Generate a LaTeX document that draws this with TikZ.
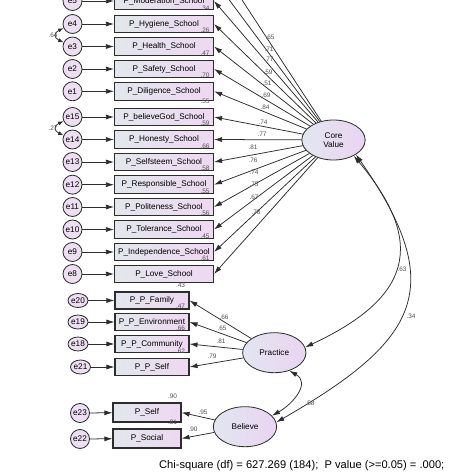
\documentclass[tikz,border=0pt]{standalone}
\usepackage{fontspec}
\setmainfont{Liberation Sans}
\usetikzlibrary{arrows.meta,shapes.geometric}
\definecolor{boxLeft}{RGB}{226,231,236}
\definecolor{boxRight}{RGB}{238,216,242}
\definecolor{errFill}{RGB}{237,222,242}
\definecolor{latLeft}{RGB}{226,230,240}
\definecolor{latRight}{RGB}{234,212,242}
\definecolor{lineGray}{RGB}{45,45,45}
\definecolor{numGray}{RGB}{80,80,80}

\begin{document}
\begin{tikzpicture}[x=0.03cm, y=-0.03cm, font=\fontsize{7}{8}\selectfont]
% Define styles
\tikzstyle{schoolBox}=[rectangle, minimum width=2.97cm, minimum height=0.53cm, inner sep=1pt, text centered, draw=lineGray, line width=0.9pt, left color=boxLeft, right color=boxRight]
\tikzstyle{practiceBox}=[schoolBox, minimum width=2.22cm, minimum height=0.51cm]
\tikzstyle{believeBox}=[schoolBox, minimum width=2.04cm, minimum height=0.57cm]
\tikzstyle{errCircle}=[circle, minimum size=0.57cm, inner sep=0pt, draw=lineGray, line width=0.7pt, fill=errFill]
\tikzstyle{errOval}=[ellipse, minimum width=0.6cm, minimum height=0.42cm, inner sep=0pt, draw=lineGray, line width=0.7pt, fill=errFill]
\tikzstyle{latent}=[ellipse, minimum width=1.9cm, minimum height=1.2cm, inner sep=0pt, align=center, draw=lineGray, line width=0.7pt, left color=latLeft, right color=latRight]
\tikzstyle{arrow}=[-{Latex[length=2.4mm,width=1.5mm]}, line width=0.65pt, lineGray]
\tikzstyle{cov}=[{Latex[length=2.4mm,width=1.5mm]}-{Latex[length=2.4mm,width=1.5mm]}, line width=0.65pt, lineGray]
\tikzstyle{smallCov}=[{Latex[length=1.6mm,width=1.2mm]}-{Latex[length=1.6mm,width=1.2mm]}, line width=0.65pt, lineGray]
\tikzstyle{num}=[font=\fontsize{5.5}{6.5}\selectfont, text=numGray, inner sep=0pt]
\tikzstyle{rsq}=[num, anchor=east]

\useasboundingbox (0,0) rectangle (474,474);
\clip (0,0) rectangle (474,474);

% Latent variables
\node[latent] (cv) at (333.5,140) {Core\\Value};
\node[latent] (pr) at (274.3,352.7) {Practice};
\node[latent] (bl) at (245,426.7) {Believe};

% School items
\node[schoolBox] (moderation) at (164,1) {P\_Moderation\_School};
\node[schoolBox] (hygiene) at (164,24) {P\_Hygiene\_School};
\node[schoolBox] (health) at (164,46.5) {P\_Health\_School};
\node[schoolBox] (safety) at (164,69) {P\_Safety\_School};
\node[schoolBox] (diligence) at (164,91.3) {P\_Diligence\_School};
\node[schoolBox] (believegod) at (164,117) {P\_believeGod\_School};
\node[schoolBox] (honesty) at (164,139.5) {P\_Honesty\_School};
\node[schoolBox] (selfsteem) at (164,162) {P\_Selfsteem\_School};
\node[schoolBox] (responsible) at (164,184.7) {P\_Responsible\_School};
\node[schoolBox] (politeness) at (164,207) {P\_Politeness\_School};
\node[schoolBox] (tolerance) at (164,229.5) {P\_Tolerance\_School};
\node[schoolBox] (independence) at (164,252) {P\_Independence\_School};
\node[schoolBox] (love) at (164,274) {P\_Love\_School};
\coordinate (topA) at (213.3,-21.5);
\coordinate (topB) at (213.3,-44);

% School error terms
\node[errCircle] (e5) at (72.5,1) {e5};
\node[errCircle] (e4) at (72.5,24) {e4};
\node[errCircle] (e3) at (72.5,46.5) {e3};
\node[errCircle] (e2) at (72.5,69) {e2};
\node[errCircle] (e1) at (72.5,91.3) {e1};
\node[errCircle] (e15) at (72.5,117) {e15};
\node[errCircle] (e14) at (72.5,139.5) {e14};
\node[errCircle] (e13) at (72.5,162) {e13};
\node[errCircle] (e12) at (72.5,184.7) {e12};
\node[errCircle] (e11) at (72.5,207) {e11};
\node[errCircle] (e10) at (72.5,229.5) {e10};
\node[errCircle] (e9) at (72.5,252) {e9};
\node[errCircle] (e8) at (72.5,274) {e8};

% Practice items
\node[practiceBox] (family) at (152,300.5) {P\_P\_Family};
\node[practiceBox] (environment) at (152,322) {P\_P\_Environment};
\node[practiceBox] (community) at (152,344) {P\_P\_Community};
\node[practiceBox] (ppself) at (152,367) {P\_P\_Self};
\node[errOval] (e20) at (78,300.5) {e20};
\node[errOval] (e19) at (78,322) {e19};
\node[errOval] (e18) at (78,344) {e18};
\node[errOval] (e21) at (80.5,367) {e21};

% Believe items
\node[believeBox] (pself) at (147,412.5) {P\_Self};
\node[believeBox] (psocial) at (147,438.5) {P\_Social};
\node[errCircle] (e23) at (80,413) {e23};
\node[errCircle] (e22) at (80,439) {e22};

% Error arrows
\draw[arrow] (e5) -- (moderation);
\draw[arrow] (e4) -- (hygiene);
\draw[arrow] (e3) -- (health);
\draw[arrow] (e2) -- (safety);
\draw[arrow] (e1) -- (diligence);
\draw[arrow] (e15) -- (believegod);
\draw[arrow] (e14) -- (honesty);
\draw[arrow] (e13) -- (selfsteem);
\draw[arrow] (e12) -- (responsible);
\draw[arrow] (e11) -- (politeness);
\draw[arrow] (e10) -- (tolerance);
\draw[arrow] (e9) -- (independence);
\draw[arrow] (e8) -- (love);
\draw[arrow] (e20) -- (family);
\draw[arrow] (e19) -- (environment);
\draw[arrow] (e18) -- (community);
\draw[arrow] (e21) -- (ppself);
\draw[arrow] (e23) -- (pself);
\draw[arrow] (e22) -- (psocial);

% Error covariances
\draw[smallCov] (e4.205) to[out=205, in=155, looseness=2] (e3.155);
\node[num] at (53,35) {.64};
\draw[smallCov] (e15.205) to[out=205, in=155, looseness=2] (e14.155);
\node[num] at (53,128) {.27};

% Core Value loadings
\draw[arrow] (cv) -- (topB);
\draw[arrow] (cv) -- (topA);
\draw[arrow] (cv) -- (moderation.east);
\draw[arrow] (cv) -- (hygiene.east);
\draw[arrow] (cv) -- (health.east);
\draw[arrow] (cv) -- (safety.east);
\draw[arrow] (cv) -- (diligence.east);
\draw[arrow] (cv) -- (believegod.east);
\draw[arrow] (cv) -- (honesty.east);
\draw[arrow] (cv) -- (selfsteem.east);
\draw[arrow] (cv) -- (responsible.east);
\draw[arrow] (cv) -- (politeness.east);
\draw[arrow] (cv) -- (tolerance.east);
\draw[arrow] (cv) -- (independence.east);
\draw[arrow] (cv) -- (love.east);
\node[num] at (270,37) {.65};
\node[num] at (269,49) {.71};
\node[num] at (269,59) {.77};
\node[num] at (268,72) {.59};
\node[num] at (267,83) {.51};
\node[num] at (266,95) {.69};
\node[num] at (265,107) {.84};
\node[num] at (263,122) {.74};
\node[num] at (262,134) {.77};
\node[num] at (253,147) {.81};
\node[num] at (253,160) {.76};
\node[num] at (254,172) {.74};
\node[num] at (254,184) {.75};
\node[num] at (254,197) {.67};
\node[num] at (256,212) {.78};

% Practice and Believe loadings
\draw[arrow] (pr) -- (family.east);
\draw[arrow] (pr) -- (environment.east);
\draw[arrow] (pr) -- (community.east);
\draw[arrow] (pr) -- (ppself.east);
\node[num] at (224,317) {.66};
\node[num] at (222,328) {.65};
\node[num] at (221,341) {.81};
\node[num] at (212,356) {.79};
\draw[arrow] (bl) -- (pself.east);
\draw[arrow] (bl) -- (psocial.east);
\node[num] at (203,412) {.95};
\node[num] at (193,429) {.90};

% Squared multiple correlations
\node[rsq] at ([shift={(-0.13cm,0.2cm)}]hygiene.north east) {.34};
\node[rsq] at ([shift={(-0.13cm,0.2cm)}]health.north east) {.26};
\node[rsq] at ([shift={(-0.13cm,0.2cm)}]safety.north east) {.47};
\node[rsq] at ([shift={(-0.13cm,0.2cm)}]diligence.north east) {.70};
\node[rsq] at ([shift={(-0.13cm,0.2cm)}]believegod.north east) {.55};
\node[rsq] at ([shift={(-0.13cm,0.2cm)}]honesty.north east) {.59};
\node[rsq] at ([shift={(-0.13cm,0.2cm)}]selfsteem.north east) {.66};
\node[rsq] at ([shift={(-0.13cm,0.2cm)}]responsible.north east) {.58};
\node[rsq] at ([shift={(-0.13cm,0.2cm)}]politeness.north east) {.55};
\node[rsq] at ([shift={(-0.13cm,0.2cm)}]tolerance.north east) {.56};
\node[rsq] at ([shift={(-0.13cm,0.2cm)}]independence.north east) {.45};
\node[rsq] at ([shift={(-0.13cm,0.2cm)}]love.north east) {.61};
\node[rsq] at ([shift={(-0.13cm,0.2cm)}]family.north east) {.43};
\node[rsq] at ([shift={(-0.13cm,0.2cm)}]environment.north east) {.47};
\node[rsq] at ([shift={(-0.13cm,0.2cm)}]community.north east) {.66};
\node[rsq] at ([shift={(-0.13cm,0.2cm)}]ppself.north east) {.62};
\node[rsq] at ([shift={(-0.13cm,0.2cm)}]pself.north east) {.90};
\node[rsq] at ([shift={(-0.13cm,0.2cm)}]psocial.north east) {.81};

% Factor covariances
\draw[cov] (cv.-38) to[out=-50, in=25, looseness=1.5] (pr.10);
\node[num] at (402,269) {.63};
\draw[cov] (cv.-33) to[out=-55, in=30, looseness=1.5] (bl.8);
\node[num] at (411,316) {.34};
\draw[cov] (pr.-50) to[out=-30, in=30, looseness=1.3] (bl.22);
\node[num] at (310,403) {.58};

% Fit statistics
\node[anchor=west, font=\fontsize{9.5}{11}\selectfont] (chi) at (155,466) {Chi-square (df) = 627.269 (184);\ \ P value (>=0.05) = .000;};
\end{tikzpicture}
\end{document}
